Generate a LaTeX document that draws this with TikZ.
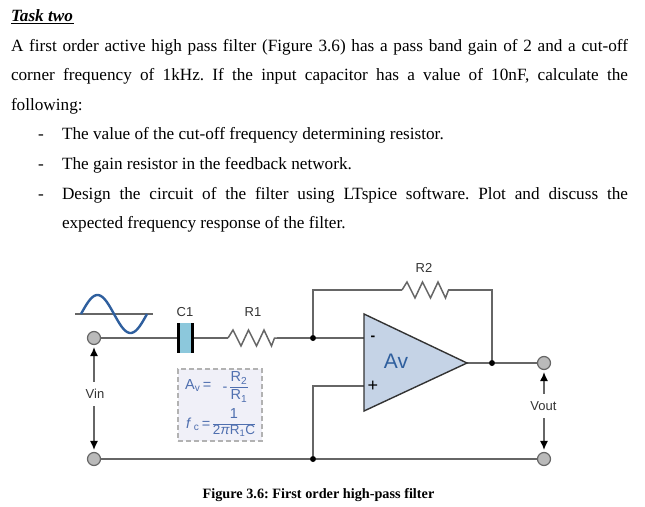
\documentclass[tikz,border=0pt]{standalone}
\usepackage{fontspec}
\setmainfont{Liberation Serif}
\setsansfont{Liberation Sans}
\usetikzlibrary{arrows.meta}
\definecolor{wire}{HTML}{666666}
\definecolor{ampfill}{HTML}{C5D3E6}
\definecolor{capfill}{HTML}{8CC8DC}
\definecolor{sinecol}{HTML}{2F5F9E}
\definecolor{formula}{HTML}{4F6FAF}
\definecolor{boxfill}{HTML}{F0F0F8}
\frenchspacing
\tikzset{
  body/.style={anchor=base west,inner sep=0pt,outer sep=0pt,font=\fontsize{17.2}{17}\selectfont\frenchspacing},
  wireline/.style={draw=wire,line width=1.5pt},
  terminal/.style={circle,draw=wire,fill=black!27,line width=1.2pt,minimum size=13pt,inner sep=0pt},
  junction/.style={circle,fill=black,minimum size=6pt,inner sep=0pt},
  lab/.style={inner sep=0pt,font=\sffamily\fontsize{13}{13}\selectfont,text=black!80},
  vlab/.style={inner sep=0pt,minimum height=24pt,font=\sffamily\fontsize{13}{13}\selectfont,text=black!80},
  fml/.style={inner sep=0pt,font=\sffamily\fontsize{14.5}{14}\selectfont,text=formula},
  fmlbar/.style={draw=formula,line width=1pt},
  meas/.style={draw=wire,line width=1.2pt,shorten >=2pt,-{Latex[black,length=9pt,width=8pt]}},
}
\newcommand{\just}[2]{\makebox[#1pt][s]{#2}}
\begin{document}
\begin{tikzpicture}[x=1pt,y=-1pt]
\useasboundingbox (0,0) rectangle (645,506);
% text
\node[body] (title) at (11,21) {\bfseries\itshape Task two};
\draw[line width=1pt] (11,23.5) -- (74,23.5);
\node[body] (l1) at (11,51) {\just{617}{A first order active high pass filter (Figure 3.6) has a pass band gain of 2 and a cut-off}};
\node[body] (l2) at (11,80) {\just{617}{corner frequency of 1kHz. If the input capacitor has a value of 10nF, calculate the}};
\node[body] (l3) at (11,110) {following:};
\node[body] (d1) at (38,139) {-};
\node[body] (t1) at (62,139) {The value of the cut-off frequency determining resistor.};
\node[body] (d2) at (38,169) {-};
\node[body] (t2) at (62,169) {The gain resistor in the feedback network.};
\node[body] (d3) at (38,199) {-};
\node[body] (t3) at (62,199) {\just{566}{Design the circuit of the filter using LTspice software. Plot and discuss the}};
\node[body] (t4) at (62,228) {expected frequency response of the filter.};
\node[anchor=base,inner sep=0pt,font=\bfseries\fontsize{14.25}{14}\selectfont] (cap) at (318.5,498) {Figure 3.6: First order high-pass filter};
% formula box
\node[draw=black!30,fill=boxfill,dash pattern=on 5pt off 3pt,line width=1.3pt,minimum width=84pt,minimum height=72pt,inner sep=0pt] (fbox) at (220,405) {};
% sine
\coordinate (sa) at (75,314); \coordinate (sb) at (153,314);
\draw[draw=wire,line width=1.3pt] (sa) -- (sb);
\draw[draw=sinecol,line width=2.4pt,domain=0:360,samples=60,smooth] plot ({81+\x/360*66},{314-19*sin(\x)});
% nodes
\node[terminal] (tin) at (94,338) {};
\node[terminal] (bin) at (94,459) {};
\node[terminal] (tout) at (544,363) {};
\node[terminal] (bout) at (544,459) {};
\node[junction] (j1) at (313,338) {};
\node[junction] (j2) at (492,363) {};
\node[junction] (j3) at (313,459) {};
\coordinate (r1a) at (228,338); \coordinate (r1b) at (277,338);
\coordinate (r2a) at (402,290); \coordinate (r2b) at (448,290);
\coordinate (fbl) at (313,290); \coordinate (fbr) at (492,290);
\coordinate (ampm) at (364,338); \coordinate (ampp) at (364,386);
\coordinate (pl) at (313,386); \coordinate (amptip) at (467,363);
\coordinate (capl) at (178.5,338); \coordinate (capr) at (191.5,338);
% wires
\draw[wireline] (tin) -- (capl);
\draw[wireline] (capr) -- (r1a);
\draw[wireline] (r1b) -- (j1) -- (ampm);
\draw[wireline] (j1) -- (fbl) -- (r2a);
\draw[wireline] (r2b) -- (fbr) -- (j2);
\draw[wireline] (amptip) -- (j2) -- (tout);
\draw[wireline] (ampp) -- (pl) -- (j3);
\draw[wireline] (bin) -- (j3) -- (bout);
% resistors
\foreach \a/\b in {r1a/r1b,r2a/r2b}{
  \draw[wireline,line join=miter] (\a) -- ++(5,-8) -- ++(8,16) -- ++(7.5,-16) -- ++(8,16) -- ++(7.5,-16) -- ++(7.5,16) -- ++(3,-8) -- (\b);
}
% capacitor
\fill[capfill] (178,323) rectangle (193,353);
\fill[black] (177,323) rectangle (180,353);
\fill[black] (191,323) rectangle (194,353);
% amp
\draw[fill=ampfill,draw=black!80,line width=1.4pt,line join=miter] (364,314) -- (364,411) -- (amptip) -- cycle;
\node[font=\sffamily\fontsize{21}{21}\selectfont,text=sinecol,inner sep=0pt] (av) at (396,361) {Av};
\node[font=\sffamily\bfseries\fontsize{14}{14}\selectfont,inner sep=0pt] (minus) at (373,338) {-};
\node[font=\sffamily\fontsize{18}{18}\selectfont,inner sep=0pt] (plus) at (373,386) {+};
% labels
\node[lab] (lc1) at (185,312) {C1};
\node[lab] (lr1) at (253,312) {R1};
\node[lab] (lr2) at (424,268) {R2};
\node[vlab] (vin) at (95,394) {Vin};
\node[vlab] (vout) at (543.5,406) {Vout};
% arrows
\draw[meas] (vin.north -| tin) -- (tin);
\draw[meas] (vin.south -| bin) -- (bin);
\draw[meas] (vout.north -| tout) -- (tout);
\draw[meas] (vout.south -| bout) -- (bout);
% formulas
\node[fml,anchor=base west] (av1) at (185,389) {A\textsubscript{v}\,=};
\node[fml] (minusf) at (225,389) {-};
\node[fml] (r2n) at (239,378) {R\textsubscript{2}};
\draw[fmlbar] (230,387) -- (248,387);
\node[fml] (r1n) at (239,396) {R\textsubscript{1}};
\node[fml,anchor=base west] (fc) at (186,428) {\textit{f}\,\textsubscript{c}\,=};
\node[fml] (one) at (234,414) {1};
\draw[fmlbar] (213,424) -- (255,424);
\node[fml,font=\sffamily\fontsize{13.5}{13}\selectfont] (den) at (234,431) {2\textit{π}R\textsubscript{1}C};
\end{tikzpicture}
\end{document}
